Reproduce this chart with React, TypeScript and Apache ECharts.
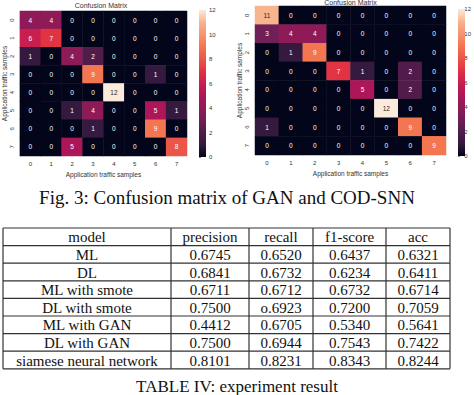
import React, { useEffect, useRef } from "react";
import * as echarts from "echarts";

// ---------- data ----------
const classes = ["0", "1", "2", "3", "4", "5", "6", "7"];

const ganMatrix = [
  [4, 4, 0, 0, 0, 0, 0, 0],
  [6, 7, 0, 0, 0, 0, 0, 0],
  [1, 0, 4, 2, 0, 0, 0, 0],
  [0, 0, 0, 9, 0, 0, 1, 0],
  [0, 0, 0, 0, 12, 0, 0, 0],
  [0, 0, 1, 4, 0, 0, 5, 1],
  [0, 0, 0, 1, 0, 0, 9, 0],
  [0, 0, 5, 0, 0, 0, 0, 8],
];

const snnMatrix = [
  [11, 0, 0, 0, 0, 0, 0, 0],
  [3, 4, 4, 0, 0, 0, 0, 0],
  [0, 1, 9, 0, 0, 0, 0, 0],
  [0, 0, 0, 7, 1, 0, 2, 0],
  [0, 0, 0, 0, 5, 0, 2, 0],
  [0, 0, 0, 0, 0, 12, 0, 0],
  [1, 0, 0, 0, 0, 0, 9, 0],
  [0, 0, 0, 0, 0, 0, 0, 9],
];

const colorMin = 0;
const colorMax = 12;
const colorbarInterval = 2;

const tableHeader = ["model", "precision", "recall", "f1-score", "acc"];
const models = [
  "ML",
  "DL",
  "ML with smote",
  "DL with smote",
  "ML with GAN",
  "DL with GAN",
  "siamese neural network",
];
const precision = ["0.6745", "0.6841", "0.6711", "0.7500", "0.4412", "0.7500", "0.8101"];
const recall = ["0.6520", "0.6732", "0.6712", "o.6923", "0.6705", "0.6944", "0.8231"];
const f1score = ["0.6437", "0.6234", "0.6732", "0.7200", "0.5340", "0.7543", "0.8343"];
const acc = ["0.6321", "0.6411", "0.6714", "0.7059", "0.5641", "0.7422", "0.8244"];

const figCaption = "Fig. 3: Confusion matrix of GAN and COD-SNN";
const tableCaption = "TABLE IV: experiment result";
const heatTitle = "Confusion Matrix";
const axisName = "Application traffic samples";

// rocket colormap sampled at k/12
const rocket = [
  "#03051a", "#35193e", "#521c4a", "#701f57", "#8e1b58", "#ad1759", "#c81f4e",
  "#e13342", "#eb5649", "#f37651", "#f59570", "#f6b48f", "#faebdd",
];

// ---------- layout ----------
const G1 = { left: 15, top: 11, width: 172, height: 145 };
const G2 = { left: 255, top: 6, width: 191, height: 149 };
const CB1 = { left: 199, top: 10, width: 7, height: 147 };
const CB2 = { left: 458, top: 9, width: 7, height: 147 };
const SANS = "Liberation Sans";
const SERIF = "Liberation Serif";

function toData(m: number[][]) {
  const out: any[] = [];
  m.forEach((row, y) =>
    row.forEach((v, x) => {
      const light = (v - colorMin) / (colorMax - colorMin) > 0.85;
      out.push({ value: [x, y, v], label: { color: light ? "#262626" : "#ffffff" } });
    })
  );
  return out;
}

export default function App() {
  const ref = useRef<HTMLDivElement>(null);
  useEffect(() => {
    if (!ref.current) return;
    const chart = echarts.init(ref.current, null, { renderer: "svg" });

    const heatX = (gi: number) => ({
      type: "category",
      gridIndex: gi,
      data: classes,
      position: "bottom",
      axisLine: { show: false },
      axisTick: { show: false },
      splitLine: { show: false },
      axisLabel: { fontSize: 6, color: "#333", fontFamily: SANS, margin: 5 },
      name: axisName,
      nameLocation: "middle",
      nameGap: 15,
      nameTextStyle: { fontSize: 6.5, color: "#333", fontFamily: SANS },
    });
    const heatY = (gi: number) => ({
      type: "category",
      gridIndex: gi,
      data: classes,
      inverse: true,
      axisLine: { show: false },
      axisTick: { show: false },
      splitLine: { show: false },
      axisLabel: { fontSize: 6, color: "#333", fontFamily: SANS, rotate: 90, margin: 5 },
      name: axisName,
      nameLocation: "middle",
      nameGap: 10,
      nameTextStyle: { fontSize: 6.5, color: "#333", fontFamily: SANS },
    });
    const cbX = (gi: number) => ({ type: "value", gridIndex: gi, show: false, min: 0, max: 1 });
    const cbY = (gi: number) => ({
      type: "value",
      gridIndex: gi,
      position: "right",
      min: colorMin,
      max: colorMax,
      interval: colorbarInterval,
      axisLine: { show: false },
      axisTick: { show: true, length: 2, lineStyle: { color: "#333", width: 0.6 } },
      splitLine: { show: false },
      axisLabel: { fontSize: 6, color: "#333", fontFamily: SANS, margin: 3 },
    });

    const labelStyle = { show: true, fontSize: 6.5, fontFamily: SANS, formatter: (p: any) => String(p.value[2]) };

    const graphics: any[] = [];
    const gradient = {
      type: "linear",
      x: 0, y: 1, x2: 0, y2: 0,
      colorStops: rocket.map((c, i) => ({ offset: i / (rocket.length - 1), color: c })),
    };
    [CB1, CB2].forEach((cb) =>
      graphics.push({
        type: "rect",
        shape: { x: cb.left, y: cb.top, width: cb.width, height: cb.height },
        style: { fill: gradient },
        z: 1,
      })
    );
    graphics.push({
      type: "text", x: G1.left + G1.width / 2, y: 5,
      style: { text: heatTitle, textAlign: "center", textVerticalAlign: "middle", fontSize: 7, fontFamily: SANS, fill: "#333" },
    });
    graphics.push({
      type: "text", x: G2.left + G2.width / 2, y: 2.5,
      style: { text: heatTitle, textAlign: "center", textVerticalAlign: "middle", fontSize: 7, fontFamily: SANS, fill: "#333" },
    });
    graphics.push({
      type: "text", x: 227, y: 197,
      style: { text: figCaption, textAlign: "center", textVerticalAlign: "middle", fontSize: 19, fontFamily: SERIF, fill: "#111" },
    });
    graphics.push({
      type: "text", x: 237, y: 386,
      style: { text: tableCaption, textAlign: "center", textVerticalAlign: "middle", fontSize: 17, fontFamily: SERIF, fill: "#111" },
    });

    // table
    const colX = [3, 171, 249, 313, 386, 450];
    const tTop = 228;
    const rowH = 17.6;
    const rows: string[][] = [tableHeader].concat(
      models.map((m, i) => [m, precision[i], recall[i], f1score[i], acc[i]])
    );
    const tBottom = tTop + rows.length * rowH;
    for (let i = 0; i <= rows.length; i++) {
      const y = tTop + i * rowH;
      graphics.push({
        type: "line",
        shape: { x1: colX[0], y1: y, x2: colX[colX.length - 1], y2: y },
        style: { stroke: "#333", lineWidth: 1.2 },
      });
    }
    colX.forEach((x) =>
      graphics.push({
        type: "line",
        shape: { x1: x, y1: tTop, x2: x, y2: tBottom },
        style: { stroke: "#333", lineWidth: 1.2 },
      })
    );
    rows.forEach((r, i) =>
      r.forEach((t, j) =>
        graphics.push({
          type: "text",
          x: (colX[j] + colX[j + 1]) / 2,
          y: tTop + (i + 0.5) * rowH + 0.5,
          style: { text: t, textAlign: "center", textVerticalAlign: "middle", fontSize: 15, fontFamily: SERIF, fill: "#111" },
        })
      )
    );

    chart.setOption({
      animation: false,
      backgroundColor: "#ffffff",
      grid: [
        { ...G1, containLabel: false },
        { ...G2, containLabel: false },
        { ...CB1, containLabel: false },
        { ...CB2, containLabel: false },
      ],
      xAxis: [heatX(0), heatX(1), cbX(2), cbX(3)],
      yAxis: [heatY(0), heatY(1), cbY(2), cbY(3)],
      visualMap: [
        { show: false, type: "continuous", min: colorMin, max: colorMax, seriesIndex: 0, dimension: 2, inRange: { color: rocket } },
        { show: false, type: "continuous", min: colorMin, max: colorMax, seriesIndex: 1, dimension: 2, inRange: { color: rocket } },
      ],
      series: [
        { type: "heatmap", xAxisIndex: 0, yAxisIndex: 0, data: toData(ganMatrix), label: labelStyle, emphasis: { disabled: true } },
        { type: "heatmap", xAxisIndex: 1, yAxisIndex: 1, data: toData(snnMatrix), label: labelStyle, emphasis: { disabled: true } },
      ],
      graphic: graphics,
    });
    return () => chart.dispose();
  }, []);
  return (
    <div
      ref={ref}
      style={{ position: "absolute", left: 0, top: 0, width: 474, height: 395, background: "#fff" }}
    />
  );
}
